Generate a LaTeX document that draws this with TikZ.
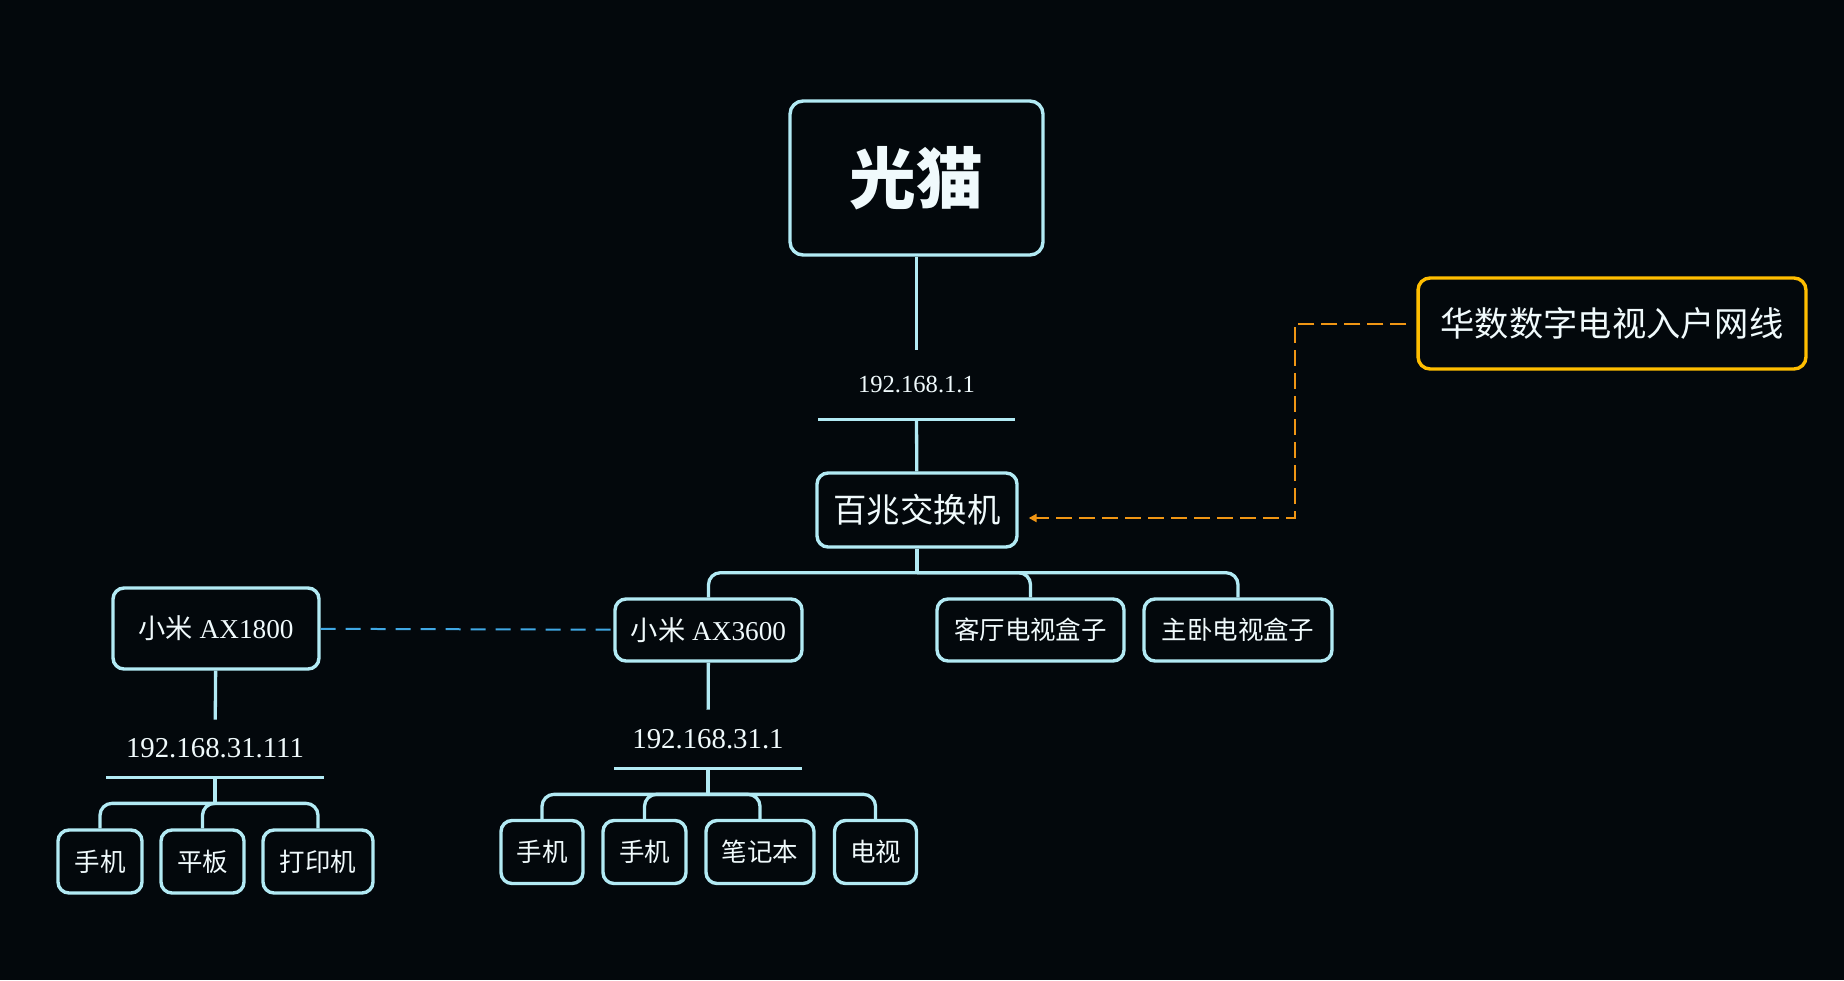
\documentclass[tikz,border=0pt]{standalone}
\usepackage{fontspec}
\usepackage{tikz}
\usetikzlibrary{arrows.meta, positioning, calc}
\setmainfont{Liberation Serif}
\newfontfamily\cjk{Noto Sans CJK SC}
\definecolor{bgdark}{RGB}{3, 8, 12}
\definecolor{linecyan}{RGB}{178, 234, 244}
\definecolor{textwhite}{RGB}{240, 250, 252}
\definecolor{amber}{RGB}{255, 190, 0}
\definecolor{wireorange}{RGB}{240, 150, 20}
\definecolor{wireblue}{RGB}{64, 168, 228}
\tikzstyle{box} = [draw=linecyan, line width=0.68mm, rounded corners=2.2mm, text=textwhite, inner sep=0pt, align=center]
\tikzstyle{device} = [box, font=\cjk\fontsize{14.5}{17}\selectfont, minimum height=1.26cm]
\tikzstyle{router} = [box, font=\fontsize{15.5}{18}\selectfont, minimum height=1.24cm]
\tikzstyle{ipnet} = [text=textwhite, inner sep=0pt, font=\fontsize{16.4}{19}\selectfont]
\tikzstyle{link} = [draw=linecyan, line width=0.66mm]
\tikzstyle{catv} = [draw=wireorange, line width=0.4mm, dash pattern=on 3.2mm off 1.4mm, -{Triangle[length=1.6mm, width=1.6mm]}]
\tikzstyle{mesh} = [draw=wireblue, line width=0.4mm, dash pattern=on 3mm off 2mm]

\begin{document}
\begin{tikzpicture}[x=0.02cm, y=-0.02cm]
    % Background
    \fill[bgdark] (0,0) rectangle (1844,980);

    % Modem and switch
    \node[box, rounded corners=2.6mm, font=\cjk\bfseries\fontsize{38}{42}\selectfont, minimum width=5.06cm, minimum height=3.08cm] (modem) at (916.5,178) {光猫};
    \node[ipnet, font=\fontsize{14}{16}\selectfont, minimum width=3.92cm, minimum height=1.38cm] (ip1) at (916.5,384.5) {192.168.1.1};
    \node[box, font=\cjk\fontsize{19}{22}\selectfont, minimum width=4cm, minimum height=1.48cm] (switch) at (917,510) {百兆交换机};
    \node[box, draw=amber, rounded corners=2.4mm, font=\cjk\fontsize{19.5}{23}\selectfont, minimum width=7.76cm, minimum height=1.82cm] (huashu) at (1612,323.5) {华数数字电视入户网线};

    % Switch ports
    \node[router, minimum width=3.74cm] (ax3600) at (708.5,630) {{\cjk 小米} AX3600};
    \node[device, minimum width=3.74cm, minimum height=1.24cm] (tvbox1) at (1030.5,630) {客厅电视盒子};
    \node[device, minimum width=3.76cm, minimum height=1.24cm] (tvbox2) at (1238,630) {主卧电视盒子};

    % AX3600 clients
    \node[ipnet, minimum width=3.74cm, minimum height=1.16cm] (ip2) at (708,739) {192.168.31.1};
    \node[device, minimum width=1.64cm] (phone1) at (542,852) {手机};
    \node[device, minimum width=1.66cm] (phone2) at (644.5,852) {手机};
    \node[device, minimum width=2.16cm] (laptop) at (760,852) {笔记本};
    \node[device, minimum width=1.64cm] (tv) at (875.5,852) {电视};

    % AX1800 clients
    \node[router, minimum width=4.12cm, minimum height=1.62cm] (ax1800) at (216,628.5) {{\cjk 小米} AX1800};
    \node[ipnet, minimum width=4.34cm, minimum height=1.14cm] (ip3) at (215,748.5) {192.168.31.111};
    \node[device, minimum width=1.68cm] (phone3) at (100,861.5) {手机};
    \node[device, minimum width=1.66cm] (pad) at (202.5,861.5) {平板};
    \node[device, minimum width=2.2cm] (printer) at (318,861.5) {打印机};

    % Wires
    \draw[link] (modem) -- (ip1);
    \draw[link] (ip1.south west) -- (ip1.south east);
    \draw[link] (ip1.south) -- (switch);
    \path (switch.south) ++(0,24) coordinate (swbus);
    \draw[link] (switch.south) -- (swbus);
    \foreach \c in {ax3600, tvbox1, tvbox2}
        \draw[link, rounded corners=2.4mm] (swbus) -| (\c.north);

    \draw[link] (ax3600) -- (ip2);
    \draw[link] (ip2.south west) -- (ip2.south east);
    \path (ip2.south) ++(0,26) coordinate (apbus);
    \draw[link] (ip2.south) -- (apbus);
    \foreach \c in {phone1, phone2, laptop, tv}
        \draw[link, rounded corners=2.4mm] (apbus) -| (\c.north);

    \draw[link] (ax1800) -- (ip3);
    \draw[link] (ip3.south west) -- (ip3.south east);
    \path (ip3.south) ++(0,26) coordinate (mibus);
    \draw[link] (ip3.south) -- (mibus);
    \foreach \c in {phone3, pad, printer}
        \draw[link, rounded corners=2.4mm] (mibus) -| (\c.north);

    % Mesh and TV line
    \draw[mesh] (ax1800) -- (ax3600);
    \coordinate (tvbend) at (1295,518);
    \draw[catv, shorten <=2mm, shorten >=2mm] (huashu.west) -| (tvbend) -- (tvbend -| switch.east);
\end{tikzpicture}
\end{document}
